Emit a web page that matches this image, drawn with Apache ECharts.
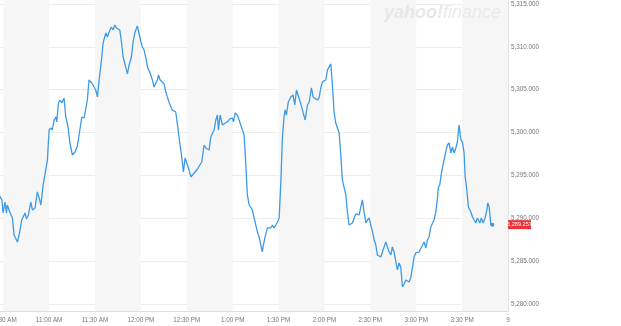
<!DOCTYPE html>
<html>
<head>
<meta charset="utf-8">
<script src="https://cdn.jsdelivr.net/npm/echarts@6/dist/echarts.min.js"></script>
<style>
html,body{margin:0;padding:0;background:#fff;}
#c{width:621px;height:326px;}
</style>
</head>
<body>
<div id="c"></div>
<script>
// time in minutes since midnight
const times = [627.3,629.1,629.9,631.2,632.1,632.7,634.3,636.0,637.1,638.2,639.3,640.8,642.1,643.0,644.3,645.2,646.5,648.0,649.1,650.8,652.3,653.5,654.6,656.1,657.8,658.9,660.0,661.1,662.1,663.3,664.4,665.0,666.1,667.2,668.3,669.8,670.9,672.4,673.5,675.2,677.0,678.5,680.1,681.4,682.9,684.0,685.0,686.1,687.9,689.4,690.5,691.6,692.7,694.4,695.3,697.1,698.1,699.2,700.7,701.8,703.0,704.0,705.1,706.2,707.3,708.4,709.7,711.2,712.3,713.8,714.9,716.2,717.7,718.8,720.0,721.0,722.1,723.2,724.3,725.4,726.5,727.5,728.6,729.8,730.8,731.5,732.6,733.7,735.2,736.3,737.3,738.4,739.6,740.6,741.7,742.8,743.9,745.0,746.1,747.1,747.8,748.9,749.8,751.1,752.0,752.8,754.1,755.4,757.0,758.1,759.8,761.3,762.4,763.5,764.6,765.7,766.8,767.9,769.0,770.0,770.7,771.8,773.3,775.1,776.6,778.1,779.8,780.5,781.6,783.1,784.2,785.3,786.4,787.5,788.6,789.6,790.8,791.9,792.9,794.0,795.1,796.2,797.3,798.4,799.4,800.1,801.2,802.7,803.8,804.9,806.0,807.1,808.2,809.3,810.4,811.5,812.5,813.6,814.3,815.1,816.4,818.0,819.5,820.6,821.7,823.0,824.6,826.1,827.4,828.9,830.0,831.5,832.6,833.9,835.4,836.5,837.6,838.7,839.8,840.9,842.0,843.1,844.2,845.2,846.3,847.4,848.5,849.6,850.7,851.7,852.9,854.0,855.0,856.1,857.2,858.3,859.4,860.5,861.6,862.7,863.8,864.8,865.9,867.1,868.1,869.2,870.3,871.4,872.5,873.6,874.6,875.7,876.8,877.9,879.0,880.1,881.2,882.3,883.4,884.4,885.5,886.7,887.7,888.8,889.9,891.0,892.1,893.2,894.2,895.4,896.5,897.5,898.6,899.7,900.8,901.9,903.0,904.1,905.2,906.3,907.3,908.4,909.5,910.6,911.7,912.8,913.9,914.5,915.4,916.1,917.1,918.2,919.3,920.4,921.5,922.6,923.7,924.8,925.9,926.9,928.0,929.2,930.2,931.3,932.0,933.1,934.1,935.7,936.8,937.9,939.0,940.0,940.7,941.6,942.6,943.7,945.0,946.2,946.8,947.7,948.8,949.8];
const prices = [5292.72,5292.14,5290.62,5291.90,5290.62,5291.55,5290.74,5290.04,5288.05,5287.93,5287.23,5288.40,5289.80,5289.57,5290.62,5289.92,5290.39,5291.90,5290.97,5291.20,5293.07,5292.37,5291.55,5293.89,5295.64,5296.80,5300.30,5300.54,5300.30,5301.47,5301.82,5301.24,5303.45,5303.80,5303.45,5304.04,5301.82,5300.65,5298.90,5297.39,5297.74,5298.44,5300.30,5301.82,5301.70,5301.82,5303.80,5306.14,5305.79,5305.32,5304.97,5304.16,5306.14,5308.71,5310.46,5311.62,5311.16,5311.74,5312.32,5311.97,5312.56,5312.21,5312.21,5311.97,5310.57,5308.82,5307.89,5306.84,5307.89,5308.82,5310.57,5311.74,5312.44,5312.21,5310.57,5309.99,5309.64,5308.71,5307.66,5307.54,5306.72,5306.14,5305.32,5305.21,5306.14,5306.72,5306.14,5305.91,5305.67,5304.74,5304.16,5303.57,5302.99,5302.64,5302.64,5302.40,5300.89,5299.37,5297.97,5296.57,5295.40,5297.04,5296.57,5295.87,5295.29,5294.82,5295.05,5295.40,5295.75,5295.87,5296.57,5298.55,5298.20,5298.32,5297.97,5299.49,5299.37,5300.30,5301.47,5302.05,5300.30,5302.05,5300.89,5301.12,5301.24,5301.59,5301.70,5301.24,5302.29,5302.05,5301.47,5300.89,5300.30,5299.72,5296.22,5292.72,5291.55,5291.44,5290.97,5290.04,5289.22,5288.40,5287.82,5286.88,5286.07,5286.88,5287.82,5288.87,5288.64,5288.87,5289.22,5288.87,5289.22,5289.57,5290.04,5294.24,5299.37,5301.82,5302.64,5302.05,5303.57,5304.16,5304.39,5303.22,5304.97,5304.74,5303.34,5302.29,5301.47,5303.22,5303.57,5305.21,5304.16,5304.16,5303.80,5304.04,5305.21,5305.91,5305.79,5306.14,5307.31,5307.66,5308.01,5305.56,5302.40,5301.12,5301.12,5299.95,5297.39,5294.47,5294.24,5292.72,5290.74,5289.22,5289.34,5289.45,5290.04,5290.50,5290.50,5290.39,5291.32,5292.14,5290.74,5289.45,5289.80,5290.04,5289.22,5288.40,5287.47,5286.88,5285.72,5285.95,5285.48,5286.07,5286.65,5287.23,5287.12,5286.07,5285.72,5286.65,5286.07,5284.90,5283.97,5284.78,5284.32,5281.98,5282.33,5282.80,5283.03,5282.57,5283.15,5284.20,5285.48,5285.95,5285.72,5286.07,5285.95,5286.88,5287.23,5286.53,5287.47,5287.82,5288.99,5289.22,5289.80,5290.74,5292.37,5293.65,5293.89,5294.82,5295.87,5296.80,5297.74,5298.55,5298.79,5297.62,5298.32,5297.62,5298.20,5298.90,5300.89,5299.14,5298.90,5297.62,5294.82,5293.30,5291.32,5290.74,5290.15,5289.80,5289.45,5290.04,5290.15,5289.45,5290.04,5289.45,5290.04,5290.97,5291.79,5291.32,5289.22,5289.257];
const xTickValues = [630,660,690,720,750,780,810,840,870,900,930,960];
const yTickValues = [5280,5285,5290,5295,5300,5305,5310,5315];
const shadedBands = [[630,660],[690,720],[750,780],[810,840],[870,900],[930,960]];
const lastPrice = prices[prices.length-1];
const lastTime = times[times.length-1];

const data = times.map((t,i)=>[t, prices[i]]);

function fmtTime(v){
  if (v === 960) return '9';
  const h = Math.floor(v/60), m = v%60;
  const h12 = h > 12 ? h-12 : h;
  return h12 + ':' + (m<10?'0':'') + m + ' ' + (h<12?'AM':'PM');
}
function fmtPrice(v){
  return v.toLocaleString('en-US',{minimumFractionDigits:3,maximumFractionDigits:3});
}

const chart = echarts.init(document.getElementById('c'), null, {renderer:'canvas'});
chart.setOption({
  animation:false,
  backgroundColor:'#fff',
  grid:{left:0, right:113, top:0, bottom:15, containLabel:false, outerBoundsMode:'none'},
  xAxis:{
    type:'value', min:627.9, max:960,
    axisLine:{show:true, lineStyle:{color:'#e0e0e0', width:1}},
    axisTick:{show:false, customValues:xTickValues},
    axisLabel:{customValues:xTickValues, formatter:fmtTime, color:'#777', fontSize:6.3, fontFamily:'Liberation Sans', margin:6},
    splitLine:{show:false}
  },
  yAxis:{
    type:'value', position:'right', min:5279.18, max:5315.47,
    axisLine:{show:true, lineStyle:{color:'#e2e2e2'}},
    axisTick:{show:false, customValues:yTickValues},
    axisLabel:{customValues:yTickValues, formatter:fmtPrice, color:'#777', fontSize:6.3, fontFamily:'Liberation Sans', margin:3},
    splitLine:{show:true, lineStyle:{color:'#ececec', width:1}}
  },
  series:[
    {
      type:'line', data:[], z:1, silent:true,
      markArea:{silent:true, itemStyle:{color:'#f6f6f6'}, data: shadedBands.map(b=>[{xAxis:b[0]},{xAxis:b[1]}])}
    },
    {
      type:'line', data:data, z:3, showSymbol:false, symbol:'none',
      lineStyle:{color:'#3d9ae8', width:1.3}
    },
    {
      type:'scatter', data:[[lastTime,lastPrice]], z:4, symbolSize:4,
      itemStyle:{color:'#2f80d0'}
    }
  ]
});

const py = chart.convertToPixel({yAxisIndex:0}, lastPrice);
const px = chart.convertToPixel({xAxisIndex:0}, 960);
chart.setOption({
  graphic:[
    {type:'text', left:384, top:4, z:2, style:{
      text:'{a|yahoo!}{b|finance}',
      rich:{
        a:{fill:'#e7e7e7', font:'italic bold 18px "Liberation Sans"'},
        b:{fill:'#e9e9e9', font:'italic 18px "Liberation Sans"'}
      }
    }},
    {type:'rect', shape:{x:px, y:py-4.5, width:23, height:9}, style:{fill:'#e8333c'}, z:10},
    {type:'text', x:px+11.5, y:py, z:11, style:{text:fmtPrice(lastPrice), fill:'#fff', font:'5.6px "Liberation Sans"', align:'center', verticalAlign:'middle'}}
  ]
});
</script>
</body>
</html>
